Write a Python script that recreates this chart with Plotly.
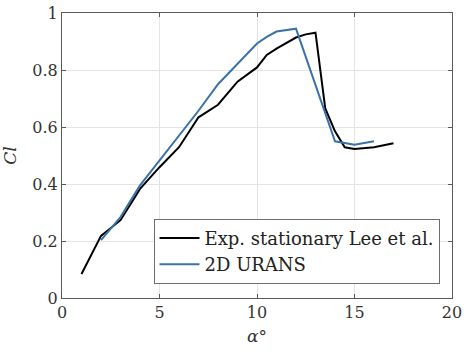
import plotly.graph_objects as go

exp_alpha = [1, 2, 3, 4, 5, 6, 7, 8, 9, 10, 10.5, 11, 12, 12.5, 13, 13.5, 14, 14.5, 15, 16, 17]
exp_cl = [0.084, 0.218, 0.273, 0.383, 0.459, 0.529, 0.634, 0.678, 0.759, 0.809, 0.853, 0.875,
          0.914, 0.925, 0.931, 0.665, 0.585, 0.529, 0.523, 0.529, 0.543]

urans_alpha = [2, 3, 4, 5, 6, 7, 8, 9, 10, 10.5, 11, 12, 13, 14, 15, 16]
urans_cl = [0.203, 0.284, 0.395, 0.483, 0.572, 0.657, 0.750, 0.820, 0.893, 0.916, 0.935,
            0.945, 0.748, 0.550, 0.538, 0.550]

x_ticks = [0, 5, 10, 15, 20]
y_ticks = [0, 0.2, 0.4, 0.6, 0.8, 1]
y_tick_text = ["0", "0.2", "0.4", "0.6", "0.8", "1"]

FONT = "DejaVu Serif, Liberation Serif, serif"

fig = go.Figure()
fig.add_trace(go.Scatter(x=exp_alpha, y=exp_cl, mode="lines",
                         name="Exp. stationary Lee et al.",
                         line=dict(color="#000000", width=2)))
fig.add_trace(go.Scatter(x=urans_alpha, y=urans_cl, mode="lines",
                         name="2D URANS",
                         line=dict(color="#3a72a8", width=2)))

axis_common = dict(showline=True, linecolor="#5a5a5a", linewidth=1, mirror="ticks",
                   ticks="inside", ticklen=4, tickcolor="#5a5a5a",
                   showgrid=True, gridcolor="#e4e4e4", gridwidth=1, zeroline=False,
                   tickfont=dict(family=FONT, size=16, color="#333333"))

fig.update_xaxes(range=[0, 20], tickvals=x_ticks, **axis_common,
                 title=dict(text="<i>α</i>°", font=dict(family=FONT, size=17, color="#333333"),
                            standoff=8))
fig.update_yaxes(range=[0, 1], tickvals=y_ticks, ticktext=y_tick_text, **axis_common,
                 automargin=False,
                 title=dict(text="<i>Cl</i>", font=dict(family=FONT, size=17, color="#333333"),
                            standoff=15))

fig.update_layout(
    width=474, height=355,
    margin=dict(l=62, r=12, t=12, b=57),
    plot_bgcolor="white", paper_bgcolor="white",
    font=dict(family=FONT, size=16, color="#222222"),
    legend=dict(x=0.968, y=0.05, xanchor="right", yanchor="bottom",
                bgcolor="white", bordercolor="#6e6e6e", borderwidth=1,
                font=dict(family=FONT, size=18, color="#222222"),
                tracegroupgap=0, itemwidth=40),
    showlegend=True,
)

fig.write_html("out.html", config={"displayModeBar": False},
               post_script="document.body.style.margin='0';")
